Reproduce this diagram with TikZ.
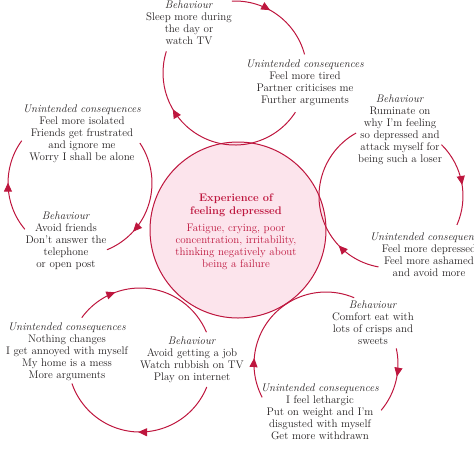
\documentclass[tikz,border=0pt]{standalone}
\usetikzlibrary{arrows.meta,decorations.markings}
\definecolor{deepred}{RGB}{190,22,62}
\definecolor{palepink}{RGB}{252,228,236}
\definecolor{inkgrey}{RGB}{35,31,32}

\begin{document}
\begin{tikzpicture}[x=1pt,y=1pt]
\tikzset{cycle/.style={color=deepred, line width=1pt},
	tip/.style={postaction={decorate}, decoration={markings,
		mark=at position #1 with {\arrow{Triangle[length=9pt,width=8pt]}}}},
	note/.style={align=center, inner sep=0pt, text=inkgrey, font=\fontsize{11}{12}\selectfont}}
				\useasboundingbox (0,0) rectangle (474,-451);
				% the experience in the middle
				\node[circle, draw=deepred, fill=palepink, line width=1pt, minimum size=176pt] (cen) at (238,-230) {};
				\node[align=center, text=deepred, font=\fontsize{11}{13.5}\selectfont\bfseries] (centitle) at (236,-205)
					{Experience of\\feeling depressed};
				\node[note, text=deepred] (cenbody) at (236,-246.5)
					{Fatigue, crying, poor\\concentration, irritability,\\thinking negatively about\\being a failure};
				% centres of the six vicious circles
				\coordinate (sleepc) at (235,-73);
				\coordinate (friendc) at (80,-183);
				\coordinate (rumc) at (391,-196);
				\coordinate (eatc) at (326,-364);
				\coordinate (jobc) at (140,-360);
				\foreach \c/\a/\b/\p in {sleepc/92.5/15/0.41, sleepc/-33/-197.5/0.71,
					friendc/220/144/0.53, friendc/33.7/-68/0.75,
					rumc/260/119/0.26, rumc/45.5/-23.7/0.53,
					eatc/207.6/67/0.23, eatc/12.5/-40/0.43,
					jobc/144/22.7/0.28, jobc/-22/-161/0.5}
					\draw[cycle, tip=\p] ([shift={(\a:72)}]\c) arc[start angle=\a, end angle=\b, radius=72];
				% behaviour and its consequences
				\node[note] (sleep) at (189,-23) {\textit{Behaviour}\\Sleep more during\\the day or\\watch TV};
				\node[note] (tired) at (305,-83) {\textit{Unintended consequences}\\Feel more tired\\Partner criticises me\\Further arguments};
				\node[note] (isolated) at (82,-134) {\textit{Unintended consequences}\\Feel more isolated\\Friends get frustrated\\and ignore me\\Worry I shall be alone};
				\node[note] (avoid) at (66,-241) {\textit{Behaviour}\\Avoid friends\\Don't answer the\\telephone\\or open post};
				\node[note] (ruminate) at (400,-130) {\textit{Behaviour}\\Ruminate on\\why I'm feeling\\so depressed and\\attack myself for\\being such a loser};
				\node[note] (ashamed) at (429,-254.5) {\textit{Unintended consequences}\\Feel more depressed\\Feel more ashamed\\and avoid more};
				\node[note] (comfort) at (373,-323) {\textit{Behaviour}\\Comfort eat with\\lots of crisps and\\sweets};
				\node[note] (lethargic) at (320,-412) {\textit{Unintended consequences}\\I feel lethargic\\Put on weight and I'm\\disgusted with myself\\Get more withdrawn};
				\node[note] (nothing) at (67,-352) {\textit{Unintended consequences}\\Nothing changes\\I get annoyed with myself\\My home is a mess\\More arguments};
				\node[note] (job) at (192,-359.5) {\textit{Behaviour}\\Avoid getting a job\\Watch rubbish on TV\\Play on internet};
\end{tikzpicture}
\end{document}
